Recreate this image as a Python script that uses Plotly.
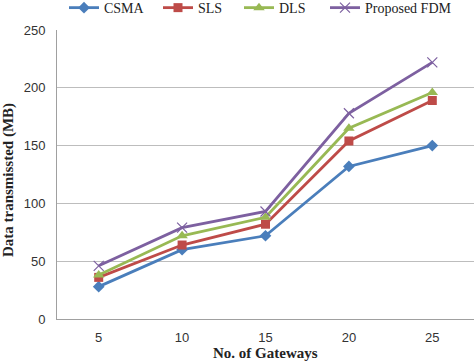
import plotly.graph_objects as go

gateways = ["5", "10", "15", "20", "25"]
csma = [28, 60, 72, 132, 150]
sls = [36, 64, 82, 154, 189]
dls = [38, 72, 88, 165, 196]
fdm = [46, 79, 93, 178, 222]
y_ticks = [0, 50, 100, 150, 200, 250]

series = [
    ("CSMA", csma, "#4A7EBB", "diamond", 9, 0),
    ("SLS", sls, "#BE4B48", "square", 9, 0),
    ("DLS", dls, "#98B954", "triangle-up", 10, 0),
    ("Proposed FDM", fdm, "#7D60A0", "x-thin-open", 10, 1.2),
]
legend_ids = ["legend", "legend2", "legend3", "legend4"]
legend_px = [64, 158, 239, 325]

L, R, T, B, W, H = 57, 0, 30, 42, 474, 361
pw = W - L - R

fig = go.Figure()
for (name, vals, color, sym, size, lw), lid in zip(series, legend_ids):
    marker = dict(symbol=sym, size=size, color=color)
    if lw:
        marker["line"] = dict(color=color, width=lw)
    fig.add_trace(go.Scatter(
        x=gateways, y=vals, name=name, mode="lines+markers",
        line=dict(color=color, width=2.8), marker=marker, legend=lid,
    ))

legend_layout = {}
for lid, px in zip(legend_ids, legend_px):
    legend_layout[lid] = dict(
        orientation="h", x=(px - L) / pw, xanchor="left", y=1.076, yanchor="middle",
        font=dict(family="Liberation Serif", size=14, color="#222"),
        itemwidth=30, bgcolor="rgba(0,0,0,0)")

fig.update_layout(
    width=W, height=H,
    margin=dict(l=L, r=R, t=T, b=B, autoexpand=False),
    paper_bgcolor="white", plot_bgcolor="white",
    showlegend=True,
    xaxis=dict(type="category", range=[-0.5, 4.5], showgrid=False, automargin=False,
               showline=True, linecolor="#A0A0A0", linewidth=1,
               ticks="", ticklabelstandoff=6,
               tickfont=dict(family="Liberation Sans", size=13, color="#333")),
    yaxis=dict(range=[0, 250], tickvals=y_ticks, showgrid=True, gridcolor="#BDBDBD",
               gridwidth=1, showline=True, linecolor="#A0A0A0", linewidth=1,
               zeroline=False, ticks="", automargin=False, ticklabelstandoff=8,
               tickfont=dict(family="Liberation Sans", size=13, color="#333")),
    annotations=[
        dict(text="<b>No. of Gateways</b>", xref="paper", yref="paper",
             x=0.5, y=-0.118, xanchor="center", yanchor="middle", showarrow=False,
             font=dict(family="Liberation Serif", size=15, color="#222")),
        dict(text="<b>Data transmissted (MB)</b>", xref="paper", yref="paper",
             x=-0.118, y=0.48, xanchor="center", yanchor="middle", showarrow=False,
             textangle=-90,
             font=dict(family="Liberation Serif", size=15, color="#222")),
    ],
    **legend_layout,
)

fig.write_html("out.html",
               config={"displayModeBar": False},
               post_script="document.body.style.margin='0px';document.body.style.overflow='hidden';")
